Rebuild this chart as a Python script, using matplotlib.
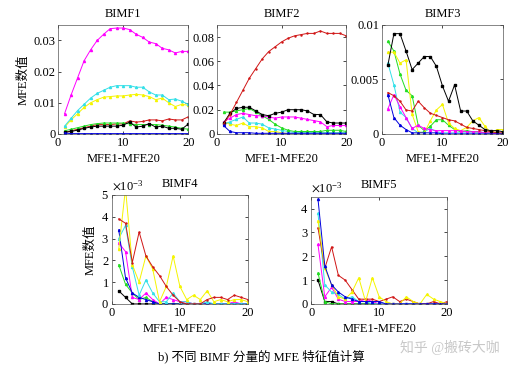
import numpy as np
import matplotlib.pyplot as plt
from matplotlib.ticker import ScalarFormatter

plt.rcParams['font.family'] = ['Liberation Serif', 'Noto Sans CJK SC']
plt.rcParams['mathtext.fontset'] = 'stix'

x = np.arange(1, 21)

# BIMF1
b1_magenta = [0.0065, 0.0125, 0.018, 0.0235, 0.027, 0.030, 0.032, 0.0338, 0.034, 0.034,
              0.0335, 0.032, 0.031, 0.0295, 0.029, 0.0275, 0.027, 0.026, 0.0265, 0.0265]
b1_cyan = [0.0025, 0.005, 0.0075, 0.0095, 0.0115, 0.013, 0.014, 0.015, 0.0155, 0.0155,
           0.0155, 0.015, 0.015, 0.0135, 0.0125, 0.0125, 0.011, 0.0112, 0.0105, 0.0095]
b1_yellow = [0.0022, 0.0045, 0.0065, 0.0085, 0.010, 0.011, 0.0118, 0.012, 0.0122, 0.0122,
             0.0125, 0.0127, 0.0125, 0.012, 0.011, 0.0115, 0.010, 0.0088, 0.0095, 0.0092]
b1_red = [0.0005, 0.001, 0.0015, 0.002, 0.0025, 0.003, 0.003, 0.003, 0.0032, 0.0032,
          0.0042, 0.0038, 0.004, 0.0045, 0.0045, 0.0042, 0.0048, 0.0045, 0.0045, 0.0055]
b1_green = [0.001, 0.0015, 0.002, 0.0025, 0.003, 0.0033, 0.0035, 0.0035, 0.0035, 0.0035,
            0.0032, 0.003, 0.003, 0.003, 0.003, 0.0028, 0.0025, 0.0022, 0.0018, 0.0015]
b1_black = [0.0005, 0.0008, 0.0012, 0.0018, 0.0022, 0.0025, 0.0025, 0.0025, 0.0025, 0.0028,
            0.0038, 0.0022, 0.0025, 0.0033, 0.0022, 0.0025, 0.0018, 0.0018, 0.0015, 0.0032]
b1_blue = [0.0003, 0.0001, 0.0001, 0.0001, 0.0001, 0.0001, 0.0001, 0.0001, 0.0001, 0.0001,
           0.0001, 0.0001, 0.0001, 0.0001, 0.0001, 0.0001, 0.0001, 0.0001, 0.0001, 0.0001]

# BIMF2
b2_red = [0.008, 0.016, 0.026, 0.036, 0.046, 0.054, 0.062, 0.068, 0.072, 0.076,
          0.079, 0.081, 0.082, 0.083, 0.083, 0.085, 0.083, 0.083, 0.083, 0.081]
b2_black = [0.009, 0.017, 0.021, 0.022, 0.022, 0.019, 0.016, 0.015, 0.017, 0.018,
            0.020, 0.020, 0.020, 0.019, 0.016, 0.016, 0.010, 0.009, 0.009, 0.009]
b2_magenta = [0.010, 0.013, 0.016, 0.017, 0.016, 0.015, 0.015, 0.014, 0.013, 0.014,
              0.014, 0.014, 0.013, 0.012, 0.011, 0.010, 0.006, 0.007, 0.007, 0.007]
b2_green = [0.018, 0.018, 0.019, 0.020, 0.021, 0.018, 0.015, 0.012, 0.008, 0.005,
            0.003, 0.002, 0.002, 0.002, 0.002, 0.002, 0.003, 0.003, 0.003, 0.002]
b2_cyan = [0.008, 0.010, 0.012, 0.014, 0.009, 0.009, 0.008, 0.005, 0.004, 0.003,
           0.002, 0.001, 0.001, 0.001, 0.001, 0.001, 0.001, 0.001, 0.001, 0.001]
b2_yellow = [0.010, 0.008, 0.007, 0.009, 0.006, 0.006, 0.005, 0.002, 0.002, 0.001,
             0.0, 0.0, 0.001, 0.002, 0.001, 0.001, 0.001, 0.001, 0.001, 0.001]
b2_blue = [0.007, 0.002, 0.001, 0.001, 0.001, 0.0005, 0.0005, 0.0005, 0.0005, 0.0005,
           0.0005, 0.0005, 0.0005, 0.0005, 0.0005, 0.0005, 0.0005, 0.0005, 0.0005, 0.0005]

# BIMF3
b3_black = [0.0063, 0.0092, 0.0092, 0.0076, 0.0059, 0.0065, 0.0071, 0.0071, 0.0062, 0.0044,
            0.0030, 0.0045, 0.0021, 0.0021, 0.0012, 0.0008, 0.0004, 0.0003, 0.0003, 0.0002]
b3_green = [0.0085, 0.0076, 0.0055, 0.0040, 0.0035, 0.0008, 0.0003, 0.0007, 0.0013, 0.0013,
            0.0008, 0.0004, 0.0002, 0.0003, 0.0002, 0.0002, 0.0001, 0.0001, 0.0001, 0.0]
b3_yellow = [0.0075, 0.0075, 0.0065, 0.0068, 0.0018, 0.0002, 0.0001, 0.0012, 0.0022, 0.0027,
             0.0010, 0.0005, 0.0003, 0.0006, 0.0012, 0.0015, 0.0007, 0.0001, 0.0004, 0.0004]
b3_cyan = [0.0065, 0.0045, 0.0020, 0.0015, 0.0005, 0.0001, 0.0002, 0.0005, 0.0002, 0.0001,
           0.0001, 0.0001, 0.0001, 0.0001, 0.0001, 0.0001, 0.0001, 0.0, 0.0, 0.0]
b3_red = [0.0038, 0.0035, 0.0030, 0.0022, 0.0021, 0.0030, 0.0024, 0.0019, 0.0017, 0.0015,
          0.0013, 0.0012, 0.0009, 0.0006, 0.0005, 0.0004, 0.0003, 0.0002, 0.0001, 0.0001]
b3_magenta = [0.0023, 0.0036, 0.0025, 0.0015, 0.0005, 0.0008, 0.0005, 0.0004, 0.0003, 0.0003,
              0.0003, 0.0003, 0.0003, 0.0002, 0.0002, 0.0002, 0.0001, 0.0001, 0.0, 0.0]
b3_blue = [0.0036, 0.0015, 0.0008, 0.0004, 0.0001, 0.0001, 0.0001, 0.0001, 0.0001, 0.0,
           0.0, 0.0, 0.0, 0.0, 0.0, 0.0, 0.0, 0.0, 0.0, 0.0]

# BIMF4
b4_yellow = [0.0025, 0.0053, 0.0018, 0.0010, 0.0022, 0.0016, 0.0001, 0.0008, 0.0022, 0.0008,
             0.0002, 0.0004, 0.0002, 0.0006, 0.0001, 0.0002, 0.0001, 0.0002, 0.0002, 0.0001]
b4_red = [0.0039, 0.0037, 0.0019, 0.0033, 0.0022, 0.0017, 0.0013, 0.0008, 0.0004, 0.0001,
          0.0, 0.0, 0.0, 0.0002, 0.0003, 0.0003, 0.0002, 0.0004, 0.0003, 0.0002]
b4_cyan = [0.0030, 0.0036, 0.0017, 0.0004, 0.0011, 0.0005, 0.0001, 0.0001, 0.0005, 0.0001,
           0.0001, 0.0, 0.0, 0.0001, 0.0, 0.0, 0.0, 0.0, 0.0, 0.0]
b4_blue = [0.0034, 0.0012, 0.0005, 0.0003, 0.0002, 0.0001, 0.0, 0.0, 0.0, 0.0,
           0.0, 0.0, 0.0, 0.0, 0.0, 0.0, 0.0, 0.0, 0.0, 0.0]
b4_magenta = [0.0028, 0.0024, 0.0003, 0.0002, 0.0005, 0.0002, 0.0, 0.0003, 0.0002, 0.0001,
              0.0001, 0.0, 0.0, 0.0, 0.0, 0.0, 0.0, 0.0001, 0.0, 0.0]
b4_green = [0.0018, 0.0009, 0.0005, 0.0002, 0.0003, 0.0001, 0.0, 0.0, 0.0, 0.0,
            0.0, 0.0, 0.0, 0.0, 0.0, 0.0, 0.0, 0.0, 0.0, 0.0]
b4_black = [0.0006, 0.0003, 0.0, 0.0, 0.0, 0.0, 0.0, 0.0, 0.0, 0.0,
            0.0, 0.0, 0.0, 0.0, 0.0, 0.0, 0.0, 0.0, 0.0, 0.0]

# BIMF5
b5_blue = [0.0044, 0.0016, 0.0008, 0.0005, 0.0003, 0.0002, 0.0001, 0.0001, 0.0001, 0.0001,
           0.0, 0.0, 0.0, 0.0, 0.0, 0.0, 0.0, 0.0, 0.0, 0.0]
b5_cyan = [0.0038, 0.0008, 0.0005, 0.0004, 0.0002, 0.0003, 0.0001, 0.0001, 0.0, 0.0,
           0.0, 0.0, 0.0, 0.0, 0.0, 0.0, 0.0, 0.0, 0.0, 0.0]
b5_yellow = [0.0035, 0.0015, 0.0008, 0.0003, 0.0002, 0.0005, 0.0011, 0.0001, 0.0011, 0.0003,
             0.0001, 0.0, 0.0, 0.0003, 0.0001, 0.0, 0.0004, 0.0002, 0.0001, 0.0]
b5_red = [0.0032, 0.0015, 0.0024, 0.0012, 0.0010, 0.0006, 0.0002, 0.0002, 0.0002, 0.0001,
          0.0002, 0.0003, 0.0001, 0.0002, 0.0001, 0.0, 0.0, 0.0001, 0.0, 0.0001]
b5_magenta = [0.0025, 0.0003, 0.0007, 0.0002, 0.0001, 0.0001, 0.0001, 0.0002, 0.0001, 0.0,
              0.0, 0.0, 0.0, 0.0, 0.0, 0.0, 0.0, 0.0, 0.0, 0.0]
b5_green = [0.0013, 0.0001, 0.0, 0.0, 0.0, 0.0, 0.0, 0.0, 0.0, 0.0,
            0.0, 0.0, 0.0, 0.0, 0.0, 0.0, 0.0, 0.0, 0.0, 0.0]
b5_black = [0.0010, 0.0001, 0.0001, 0.0, 0.0, 0.0, 0.0, 0.0, 0.0, 0.0,
            0.0, 0.0, 0.0, 0.0, 0.0, 0.0, 0.0, 0.0, 0.0, 0.0]

colors = {
    "magenta": "#ff00ff",
    "cyan": "#33e0e8",
    "yellow": "#f5f500",
    "red": "#d01515",
    "green": "#22dd22",
    "black": "#000000",
    "blue": "#0000dd",
}
markers = {
    "magenta": "^", "cyan": "^", "yellow": "^", "red": ".",
    "green": "^", "black": "s", "blue": "^",
}

panels = [
    ("BIMF1", [0.111, 0.640, 0.249, 0.293], (0, 0.035), [0, 0.01, 0.02, 0.03],
     {"yellow": b1_yellow, "cyan": b1_cyan, "magenta": b1_magenta, "red": b1_red,
      "green": b1_green, "black": b1_black, "blue": b1_blue}),
    ("BIMF2", [0.415, 0.640, 0.247, 0.293], (0, 0.09), [0, 0.02, 0.04, 0.06, 0.08],
     {"yellow": b2_yellow, "cyan": b2_cyan, "green": b2_green, "magenta": b2_magenta,
      "black": b2_black, "red": b2_red, "blue": b2_blue}),
    ("BIMF3", [0.730, 0.640, 0.232, 0.293], (0, 0.01), [0, 0.005, 0.01],
     {"cyan": b3_cyan, "green": b3_green, "yellow": b3_yellow, "magenta": b3_magenta,
      "red": b3_red, "blue": b3_blue, "black": b3_black}),
    ("BIMF4", [0.214, 0.183, 0.260, 0.293], (0, 0.005), [0, 0.001, 0.002, 0.003, 0.004, 0.005],
     {"black": b4_black, "green": b4_green, "magenta": b4_magenta, "blue": b4_blue,
      "cyan": b4_cyan, "yellow": b4_yellow, "red": b4_red}),
    ("BIMF5", [0.595, 0.183, 0.260, 0.288], (0, 0.0045), [0, 0.001, 0.002, 0.003, 0.004],
     {"black": b5_black, "green": b5_green, "magenta": b5_magenta, "cyan": b5_cyan,
      "red": b5_red, "yellow": b5_yellow, "blue": b5_blue}),
]

fig = plt.figure(figsize=(5.23, 3.72), dpi=100)

for i, (title, rect, ylim, yticks, series) in enumerate(panels):
    ax = fig.add_axes(rect)
    for name, vals in series.items():
        ax.plot(x, vals, color=colors[name], linewidth=0.7,
                marker=markers[name], markersize=1.5)
    ax.set_xlim(0, 20)
    ax.set_ylim(*ylim)
    ax.set_xticks([0, 10, 20])
    ax.set_yticks(yticks)
    ax.tick_params(direction="in", length=2, labelsize=9, pad=2,
                   top=True, right=True, width=0.5)
    for sp in ax.spines.values():
        sp.set_linewidth(0.5)
        sp.set_color("#555555")
    if i >= 3:
        fmt = ScalarFormatter(useMathText=True)
        fmt.set_powerlimits((-2, 2))
        ax.yaxis.set_major_formatter(fmt)
        ax.yaxis.get_offset_text().set_fontsize(9)
    else:
        ax.yaxis.set_major_formatter(plt.FuncFormatter(lambda v, p: f"{v:g}"))
    ax.set_title(title, fontsize=9, pad=6)
    ax.set_xlabel("MFE1-MFE20", fontsize=9, labelpad=3)
    if i in (0, 3):
        ax.set_ylabel("MFE数值", fontsize=9, labelpad=3)

fig.text(0.5, 0.043, "b) 不同 BIMF 分量的 MFE 特征值计算", ha="center", va="center", fontsize=9)
fig.text(0.86, 0.067, "知乎 @搬砖大咖", ha="center", va="center", fontsize=10,
         color="#c8c8c8")

fig.savefig("out.png", dpi=100)
